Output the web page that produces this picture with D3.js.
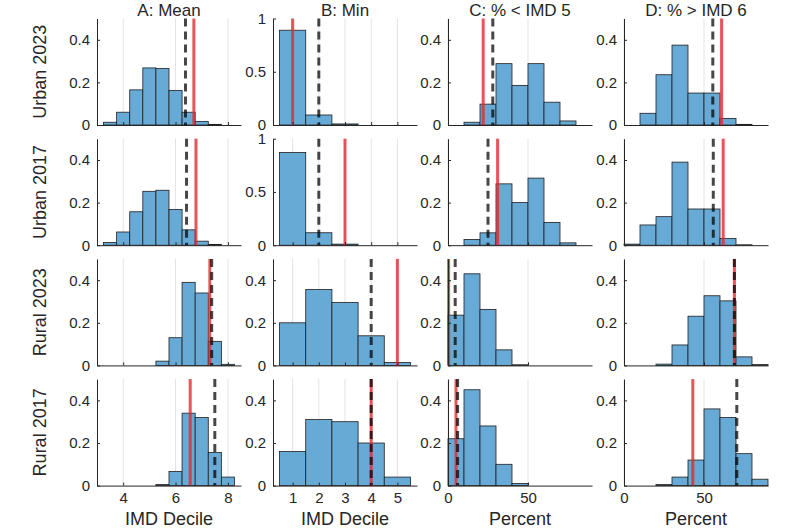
<!DOCTYPE html>
<html>
<head>
<meta charset="utf-8">
<script src="https://cdn.jsdelivr.net/npm/d3@7"></script>
<style>
  body { margin: 0; background: #fff; }
  svg { display: block; font-family: "Liberation Sans", Arial, sans-serif; }
</style>
</head>
<body>
<div id="chart"></div>
<script>
// column titles, row titles, x labels
const colTitles = ["A: Mean", "B: Min", "C: % < IMD 5", "D: % > IMD 6"];
const rowTitles = ["Urban 2023", "Urban 2017", "Rural 2023", "Rural 2017"];
const xLabels = ["IMD Decile", "IMD Decile", "Percent", "Percent"];

// x ranges / ticks per column
const xDomains = [[3, 8.5], [0.25, 5.75], [0, 90], [0, 90]];
const xTicks = [[4, 6, 8], [1, 2, 3, 4, 5], [0, 50], [0, 50]];

// histogram bins: first edge and width per column
const binStart = [3.25, 0.5, 0, 0];
const binWidth = [0.5, 1, 10, 10];

// bar heights (probability), rows in order Urban 2023, Urban 2017, Rural 2023, Rural 2017
const histA = [
  [0.013, 0.06, 0.165, 0.268, 0.265, 0.162, 0.06, 0.016, 0.003],
  [0.013, 0.062, 0.157, 0.253, 0.258, 0.168, 0.072, 0.019, 0.003],
  [0, 0, 0, 0, 0.02, 0.13, 0.39, 0.34, 0.113, 0.005],
  [0, 0, 0, 0, 0.005, 0.066, 0.34, 0.32, 0.155, 0.04]
];
const histB = [
  [0.89, 0.094, 0.01, 0, 0],
  [0.87, 0.117, 0.01, 0, 0],
  [0.20, 0.356, 0.295, 0.139, 0.014],
  [0.16, 0.31, 0.30, 0.20, 0.04]
];
const histC = [
  [0, 0.013, 0.098, 0.288, 0.186, 0.288, 0.107, 0.019],
  [0, 0.027, 0.058, 0.288, 0.20, 0.315, 0.107, 0.011],
  [0.236, 0.43, 0.263, 0.073, 0.003],
  [0.22, 0.45, 0.28, 0.10, 0.01]
];
const histD = [
  [0, 0.055, 0.236, 0.375, 0.15, 0.15, 0.031, 0.003],
  [0.005, 0.095, 0.134, 0.39, 0.17, 0.17, 0.031, 0.002],
  [0, 0, 0.006, 0.096, 0.231, 0.327, 0.303, 0.04, 0.004],
  [0, 0, 0.005, 0.04, 0.12, 0.36, 0.32, 0.15, 0.03]
];
const hists = [histA, histB, histC, histD];

// reference lines: solid red and dashed black
const redLines = [
  [6.7, 6.78, 7.31, 6.56],
  [1, 3, 5, 4],
  [22, 31, 0.4, 5],
  [61, 62, 69, 43]
];
const dashLines = [
  [6.38, 6.42, 7.38, 7.5],
  [2, 2, 4, 4],
  [28, 25, 4.5, 6],
  [55.5, 55.8, 69, 70.5]
];

// y max per panel [col][row]
const yMaxes = [
  [0.5, 0.5, 0.5, 0.5],
  [1, 1, 0.5, 0.5],
  [0.5, 0.5, 0.5, 0.5],
  [0.5, 0.5, 0.5, 0.5]
];

const width = 800, height = 530;
const colLeft = [97, 273, 448, 624];
const panelW = 144;
const rowTop = [18.5, 138.7, 258.9, 379.1];
const panelH = 106.5;

const svg = d3.select("#chart").append("svg")
  .attr("width", width).attr("height", height);

const textColor = "#262626";

for (let c = 0; c < 4; c++) {
  for (let r = 0; r < 4; r++) {
    const g = svg.append("g").attr("transform", `translate(${colLeft[c]}, ${rowTop[r]})`);
    const x = d3.scaleLinear().domain(xDomains[c]).range([0, panelW]);
    const yMax = yMaxes[c][r];
    const y = d3.scaleLinear().domain([0, yMax]).range([panelH, 0]);
    const yTicks = yMax === 1 ? [0, 0.5, 1] : [0, 0.2, 0.4];

    // vertical grid
    g.selectAll("line.grid")
      .data(xTicks[c])
      .join("line")
        .attr("class", "grid")
        .attr("x1", d => x(d)).attr("x2", d => x(d))
        .attr("y1", 0).attr("y2", panelH)
        .attr("stroke", "#e3e3e3")
        .attr("stroke-width", 1);

    const bins = hists[c][r].map((v, i) => ({
      x0: binStart[c] + i * binWidth[c],
      x1: binStart[c] + (i + 1) * binWidth[c],
      v: v
    }));

    g.selectAll("rect.bar")
      .data(bins)
      .join("rect")
        .attr("class", "bar")
        .attr("x", d => x(d.x0))
        .attr("width", d => x(d.x1) - x(d.x0))
        .attr("y", d => y(d.v))
        .attr("height", d => panelH - y(d.v))
        .attr("fill", "rgb(104,170,214)")
        .attr("stroke", "#1e1e1e")
        .attr("stroke-width", 0.8);

    g.append("line")
      .attr("x1", x(redLines[c][r])).attr("x2", x(redLines[c][r]))
      .attr("y1", 0).attr("y2", panelH)
      .attr("stroke", "#e02a30")
      .attr("stroke-opacity", 0.8)
      .attr("stroke-width", 3);

    g.append("line")
      .attr("x1", x(dashLines[c][r])).attr("x2", x(dashLines[c][r]))
      .attr("y1", 0).attr("y2", panelH)
      .attr("stroke", "#000")
      .attr("stroke-opacity", 0.72)
      .attr("stroke-width", 3)
      .attr("stroke-dasharray", "8,5");

    // axes
    const yAxis = d3.axisLeft(y).tickValues(yTicks)
      .tickFormat(d3.format("~g")).tickSizeInner(-3).tickSizeOuter(0).tickPadding(7);
    const xAxis = d3.axisBottom(x).tickValues(xTicks[c])
      .tickFormat(d3.format("~g")).tickSizeInner(-3).tickSizeOuter(0).tickPadding(7);
    if (r < 3) xAxis.tickFormat("");

    const ya = g.append("g").call(yAxis);
    const xa = g.append("g").attr("transform", `translate(0, ${panelH})`).call(xAxis);
    [ya, xa].forEach(a => {
      a.select(".domain").attr("stroke", textColor).attr("stroke-width", 1);
      a.selectAll(".tick line").attr("stroke", textColor);
      a.selectAll(".tick text")
        .attr("fill", textColor)
        .attr("font-size", "15px")
        .attr("font-family", "\"Liberation Sans\", Arial, sans-serif");
    });

    if (r === 0) {
      g.append("text")
        .attr("x", panelW / 2)
        .attr("y", -2.5)
        .attr("text-anchor", "middle")
        .attr("fill", textColor)
        .attr("font-size", "17px")
        .text(colTitles[c]);
    }
    if (r === 3) {
      g.append("text")
        .attr("x", panelW / 2)
        .attr("y", panelH + 39)
        .attr("text-anchor", "middle")
        .attr("fill", textColor)
        .attr("font-size", "18px")
        .text(xLabels[c]);
    }
    if (c === 0) {
      g.append("text")
        .attr("transform", `translate(-51, ${panelH / 2}) rotate(-90)`)
        .attr("text-anchor", "middle")
        .attr("fill", textColor)
        .attr("font-size", "18px")
        .text(rowTitles[r]);
    }
  }
}
</script>
</body>
</html>
